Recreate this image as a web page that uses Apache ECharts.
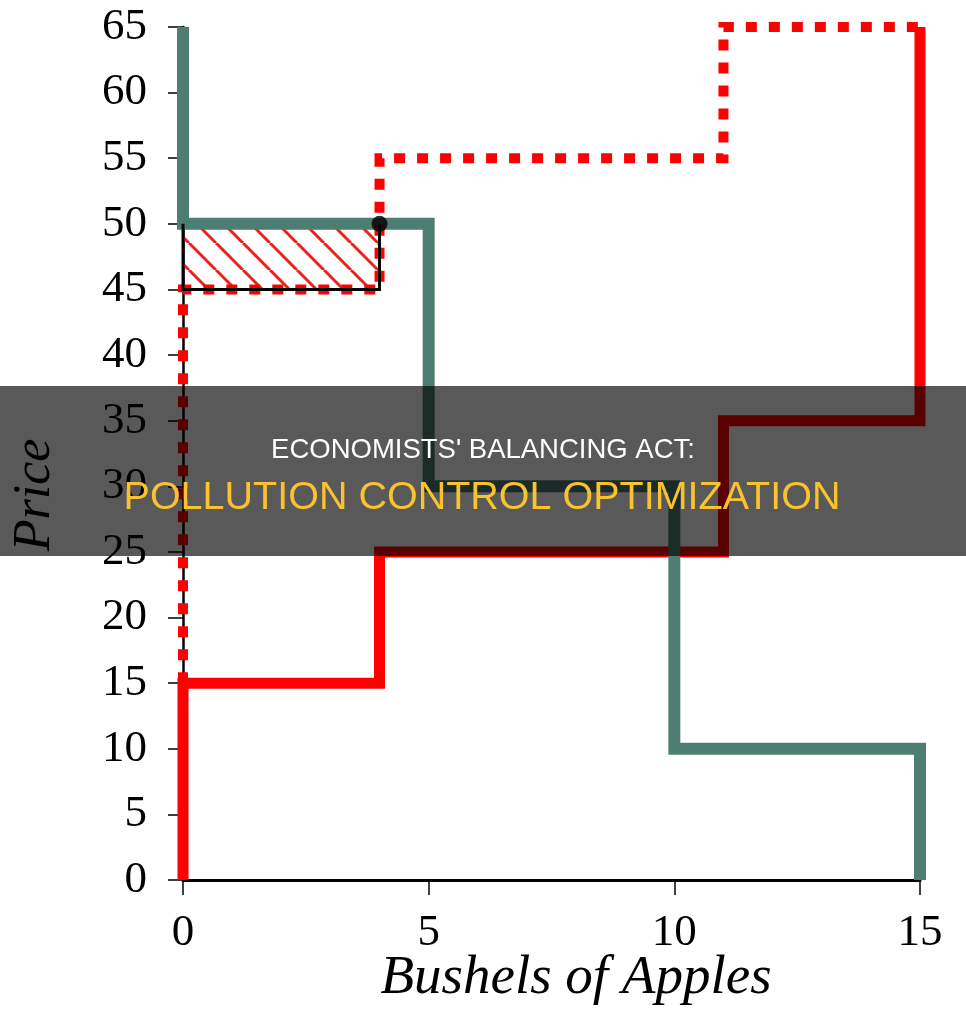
<!DOCTYPE html>
<html>
<head>
<meta charset="utf-8">
<script src="https://cdn.jsdelivr.net/npm/echarts@6/dist/echarts.min.js"></script>
<style>
  html, body { margin: 0; padding: 0; background: #fff; }
  #chart { width: 966px; height: 1024px; }
</style>
</head>
<body>
<div id="chart"></div>
<script>
// step curves, [bushels, price]
const demandSteps = [[0, 65], [0, 50], [5, 50], [5, 30], [10, 30], [10, 10], [15, 10], [15, 0]];
const supplySteps = [[0, 0], [0, 15], [4, 15], [4, 25], [11, 25], [11, 35], [15, 35], [15, 65]];
const socialSteps = [[0, 15], [0, 45], [4, 45], [4, 55], [11, 55], [11, 65], [15, 65]];
const lossBox = [[0, 50], [0, 45], [4, 45], [4, 50]];
const lossArea = [[0, 45, 4, 50]];
const marketPoint = [[4, 50]];
const xTicks = [0, 5, 10, 15];
const yTicks = [0, 5, 10, 15, 20, 25, 30, 35, 40, 45, 50, 55, 60, 65];

const serif = 'Liberation Serif';

// diagonal hatch tile for the shaded box
const makeHatch = () => {
    var s = 27;
    var c = document.createElement('canvas');
    c.width = s; c.height = s;
    var g = c.getContext('2d');
    g.strokeStyle = '#e8231c';
    g.lineWidth = 3;
    [-s, 0, s].forEach(x0 => {
        g.beginPath();
        g.moveTo(x0, 0);
        g.lineTo(x0 + s, s);
        g.stroke();
    });
    return c;
};

var chartDom = document.getElementById('chart');
var myChart = echarts.init(chartDom);
var option;

var baseX = {
    type: 'value', min: 0, max: 15, interval: 5,
    splitLine: { show: false }
};
var baseY = {
    type: 'value', min: 0, max: 65, interval: 5,
    splitLine: { show: false }
};

option = {
    animation: false,
    backgroundColor: '#fff',
    grid: { left: 183, right: 46, top: 27, bottom: 144, containLabel: false },
    xAxis: [
        Object.assign({}, baseX, {
            axisLine: { onZero: false, lineStyle: { color: '#000', width: 3 } },
            axisTick: { show: true, length: 15, lineStyle: { color: '#000', width: 1.5 } },
            axisLabel: {
                margin: 31, color: '#000', fontFamily: serif, fontSize: 45,
                formatter: v => xTicks.indexOf(v) >= 0 ? String(v) : ''
            }
        }),
        Object.assign({}, baseX, {
            axisLine: { show: false },
            axisTick: { show: true, inside: true, length: 14, lineStyle: { color: '#000', width: 1.5 } },
            axisLabel: { show: false }
        })
    ],
    yAxis: [
        Object.assign({}, baseY, {
            axisLine: { onZero: false, lineStyle: { color: '#000', width: 2.5 } },
            axisTick: { show: true, length: 15, lineStyle: { color: '#000', width: 1.5 } },
            axisLabel: {
                margin: 36, color: '#000', fontFamily: serif, fontSize: 45,
                formatter: v => yTicks.indexOf(v) >= 0 ? String(v) : ''
            }
        }),
        Object.assign({}, baseY, {
            axisLine: { show: false },
            axisTick: { show: true, inside: true, length: 15, lineStyle: { color: '#000', width: 1.5 } },
            axisLabel: { show: false }
        })
    ],
    series: [
        {
            type: 'custom',
            z: 1,
            data: lossArea,
            renderItem: (params, api) => {
                var p0 = api.coord([api.value(0), api.value(3)]);
                var p1 = api.coord([api.value(2), api.value(1)]);
                return {
                    type: 'rect',
                    shape: { x: p0[0], y: p0[1], width: p1[0] - p0[0], height: p1[1] - p0[1] },
                    style: { fill: { image: makeHatch(), repeat: 'repeat' }, stroke: null }
                };
            }
        },
        {
            type: 'line', z: 2, data: supplySteps, symbol: 'none',
            lineStyle: { color: '#ff0000', width: 11, cap: 'butt', join: 'miter' }
        },
        {
            type: 'line', z: 3, data: demandSteps, symbol: 'none',
            lineStyle: { color: '#4e7e72', width: 12, cap: 'butt', join: 'miter' }
        },
        {
            type: 'line', z: 4, data: socialSteps, symbol: 'none',
            lineStyle: { color: '#ff0000', width: 10, type: [11, 12], cap: 'butt', join: 'miter' }
        },
        {
            type: 'line', z: 5, data: lossBox, symbol: 'none',
            lineStyle: { color: '#000', width: 3, join: 'miter' }
        },
        {
            type: 'scatter', z: 6, data: marketPoint, symbolSize: 16,
            itemStyle: { color: '#000' }
        }
    ],
    graphic: [
        {
            type: 'text', x: 576, y: 979, z: 10,
            style: {
                text: 'Bushels of Apples', fill: '#000', fontFamily: serif,
                fontStyle: 'italic', fontSize: 55, align: 'center', verticalAlign: 'middle'
            }
        },
        {
            type: 'text', x: 35, y: 495, rotation: Math.PI / 2, z: 10,
            style: {
                text: 'Price', fill: '#000', fontFamily: serif,
                fontStyle: 'italic', fontSize: 52, align: 'center', verticalAlign: 'middle'
            }
        },
        {
            type: 'rect', x: 0, y: 386, z: 100,
            shape: { width: 966, height: 170 },
            style: { fill: 'rgba(0,0,0,0.65)' }
        },
        {
            type: 'text', x: 483, y: 450, z: 101,
            style: {
                text: "ECONOMISTS' BALANCING ACT:", fill: '#fff', fontFamily: 'Liberation Sans',
                fontSize: 27.5, align: 'center', verticalAlign: 'middle'
            }
        },
        {
            type: 'text', x: 482, y: 498, z: 101,
            style: {
                text: 'POLLUTION CONTROL OPTIMIZATION', fill: '#f9c22e', fontFamily: 'Liberation Sans',
                fontSize: 39.5, align: 'center', verticalAlign: 'middle'
            }
        }
    ]
};

option && myChart.setOption(option);
</script>
</body>
</html>
